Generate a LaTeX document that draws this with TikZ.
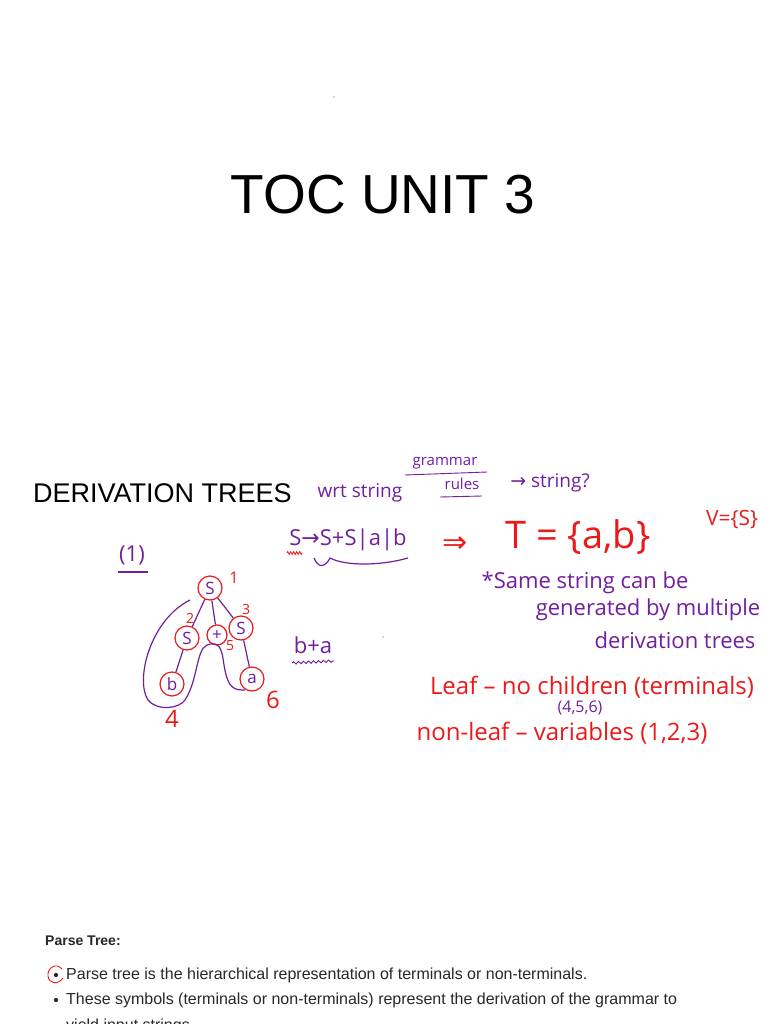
\documentclass[tikz,border=0pt]{standalone}
\usepackage{fontspec}
\setmainfont{Liberation Sans}
\newfontfamily\hand{Open Sans}
\newfontfamily\dv{DejaVu Sans}
\usetikzlibrary{decorations.pathmorphing}
\definecolor{pu}{RGB}{115,30,160}
\definecolor{rd}{RGB}{235,25,25}
\definecolor{tx}{RGB}{40,40,40}
\newcommand{\fs}[1]{\fontsize{#1}{#1}\selectfont}
\begin{document}
\begin{tikzpicture}[x=1pt,y=-1pt,
  hp/.style={text=pu,font=\hand\fs{22},inner sep=0},
  hr/.style={text=rd,font=\hand\fs{24},inner sep=0},
  tn/.style={circle,draw=rd,line width=1.2pt,text=pu,inner sep=0,minimum size=24pt,font=\hand\fs{17}},
  num/.style={text=rd,font=\hand\fs{14},inner sep=0},
  pl/.style={draw=pu,line width=1.2pt},
  body/.style={text=tx,font=\fs{16},anchor=west,inner sep=0}]
\useasboundingbox[fill=white] (0,0) rectangle (768,1024);
\node (dot) [fill=rd,circle,inner sep=0.5pt] at (334,97) {};
\node (title) at (383,195) {\fs{55}TOC UNIT 3};
\node (dt) [anchor=west,inner sep=0] at (33,493) {\fs{27}DERIVATION TREES};
\node (one) [hp] at (132,555) {(1)};
\draw[pl] (118,572) -- (148,572);
\node (wrt) [hp,font=\hand\fs{19}] at (360,493) {wrt string};
\node (gram) [hp,font=\hand\fs{15}] at (445,463) {grammar};
\draw[pl,line width=0.9pt] (405,475) -- (487,472);
\node (rules) [hp,font=\hand\fs{15}] at (462,484) {rules};
\draw[pl,line width=0.9pt] (440,497) -- (482,496);
\node (str) [hp,font=\hand\fs{19}] at (550,483) {{\dv→} string?};
\node (gr) [hp] at (348,540) {S{\dv→}S+S|a|b};
\draw[rd,line width=0.8pt,decorate,decoration={zigzag,amplitude=1.5pt,segment length=3pt}] (287,553) -- (302,553);
\draw[pl] (314,558) .. controls (318,568) and (325,568) .. (330,558) .. controls (345,566) and (380,566) .. (408,558);
\node (imp) [hr,font=\dv\fs{30}] at (455,545) {⇒};
\node (T) [hr,font=\hand\fs{38}] at (578,537) {T = \{a,b\}};
\node (V) [hr,font=\hand\fs{21}] at (732,520) {V=\{S\}};
\node (s1) [hp] at (585,583) {*Same string can be};
\node (s2) [hp] at (648,610) {generated by multiple};
\node (s3) [hp] at (675,640) {derivation trees};
\node (ba) [hp,font=\hand\fs{22}] at (313,645) {b+a};
\draw[pl,line width=0.9pt,decorate,decoration={snake,amplitude=1.2pt,segment length=5pt}] (292,663) -- (334,661);
\node (leaf) [hr] at (592,687) {Leaf – no children (terminals)};
\node (l456) [hp,font=\hand\fs{16}] at (580,708) {(4,5,6)};
\node (nl) [hr] at (562,733) {non-leaf – variables (1,2,3)};
\node (dot2) [fill=rd,circle,inner sep=0.5pt] at (383,637) {};
% tree
\node (S) [tn] at (210,588) {S};
\node (S2) [tn] at (187,638) {S};
\node (P) [tn,minimum size=20pt] at (217,635) {+};
\node (S3) [tn] at (241,628) {S};
\node (G) [tn] at (172,684) {b};
\node (A) [tn] at (252,679) {a};
\draw[pl] (S) -- (S2); \draw[pl] (S) -- (P); \draw[pl] (S) -- (S3);
\draw[pl] (S2) -- (G); \draw[pl] (S3) -- (A);
\node (n1) [num,font=\hand\fs{16}] at (234,578) {1};
\node (n2) [num] at (190,618) {2};
\node (n3) [num] at (246,609) {3};
\node (n5) [num] at (230,646) {5};
\node (n4) [hr] at (172,719) {4};
\node (n6) [hr] at (273,700) {6};
\draw[pl] (190,600) .. controls (150,620) and (135,680) .. (148,700) .. controls (158,712) and (180,708) .. (185,700)
  .. controls (198,680) and (196,650) .. (207,645) .. controls (220,640) and (222,650) .. (224,665)
  .. controls (228,690) and (235,690) .. (245,690);
% bottom text
\node (pt) [body,font=\bfseries\fs{14}] at (45,941) {Parse Tree:};
\node (b1d) [fill=tx,circle,inner sep=1.5pt] at (56,975) {};
\draw[rd,line width=0.9pt] (62,969) .. controls (56,962) and (47,968) .. (48,976) .. controls (49,984) and (58,985) .. (63,978);
\node (b1) [body] at (66,975) {Parse tree is the hierarchical representation of terminals or non-terminals.};
\node (b2d) [fill=tx,circle,inner sep=1.5pt] at (56,1000) {};
\node (b2) [body] at (66,1000) {These symbols (terminals or non-terminals) represent the derivation of the grammar to};
\node (b3) [body] at (66,1026) {yield input strings.};
\end{tikzpicture}
\end{document}
